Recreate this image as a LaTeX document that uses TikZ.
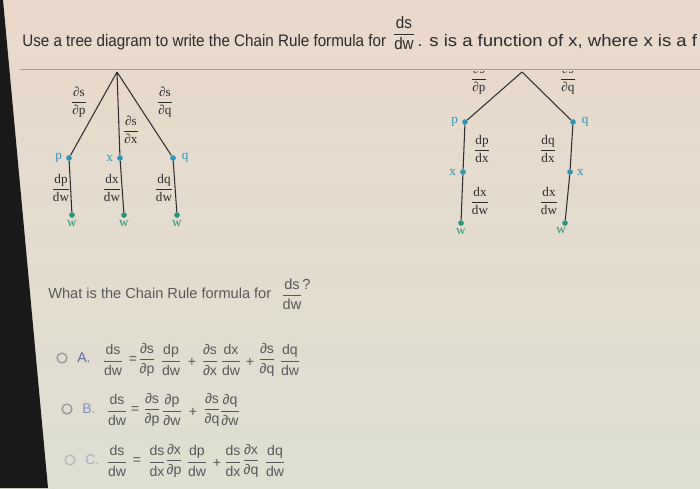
\documentclass[tikz,border=0pt]{standalone}
\usepackage{amsmath}
\usepackage{fontspec}
\setmainfont{Liberation Sans}
\newfontfamily\treefont{Liberation Serif}
\newfontfamily\headfont[FakeStretch=0.91]{Liberation Sans}
\newfontfamily\tailfont[FakeStretch=1.11]{Liberation Sans}
\usetikzlibrary{positioning}
\definecolor{bgtop}{RGB}{233,217,204}
\definecolor{bgbot}{RGB}{221,223,209}
\definecolor{ink}{RGB}{45,42,42}
\definecolor{greyink}{RGB}{88,88,88}
\definecolor{dotblue}{RGB}{40,150,185}
\definecolor{dotgreen}{RGB}{35,150,120}
\definecolor{branchgray}{RGB}{50,45,45}
\definecolor{rulegray}{RGB}{165,155,150}
\definecolor{optblue}{RGB}{90,105,165}
\newcommand{\fr}[2]{$\dfrac{\mbox{#1}}{\mbox{#2}}$}
\tikzset{
  tdot/.style={circle, fill=dotblue, inner sep=0pt, minimum size=3.2pt},
  wdot/.style={tdot, fill=dotgreen},
  branch/.style={draw=branchgray, line width=0.6pt},
  tlbl/.style={font=\treefont\fontsize{7.5}{9}\selectfont, inner sep=1pt, text=ink},
  vlbl/.style={tlbl, text=dotblue},
  wlbl/.style={tlbl, text=dotgreen},
  head/.style={font=\headfont\fontsize{9.5}{11}\selectfont, text=ink, inner sep=0pt},
  ask/.style={font=\fontsize{8.3}{10}\selectfont, text=greyink, inner sep=0pt},
  opt/.style={font=\fontsize{8}{10}\selectfont, text=greyink, inner sep=0pt},
  optlet/.style={opt, text=optblue},
  radio/.style={circle, draw=gray!80, line width=0.8pt, inner sep=0pt, minimum size=5.6pt}
}
\begin{document}
\begin{tikzpicture}[x=0.02cm, y=-0.02cm]
  \useasboundingbox (0,0) rectangle (700,488);
  \clip (0,0) rectangle (700,488);
  \shade[top color=bgtop, bottom color=bgbot] (0,0) rectangle (700,488);
  \fill[black!90] (0,0) -- (3,0) -- (48,488) -- (0,488) -- cycle;

  % question
  \node[head, anchor=base west] (title) at (22,46) {Use a tree diagram to write the Chain Rule formula for};
  \node[head] (tfrac) at (404,33) {\fr{ds}{dw}};
  \node[head, anchor=base west, font=\tailfont\fontsize{9.5}{11}\selectfont] (tail) at (417,46) {. s is a function of x, where x is a f};
  \coordinate (ra) at (20,69);
  \coordinate (rb) at (700,69);
  \draw[rulegray, line width=0.5pt] (ra) -- (rb);

  % left tree
  \coordinate (ls) at (117,72);
  \node[tdot] (lp) at (69,158) {};
  \node[tdot] (lx) at (120,158) {};
  \node[tdot] (lq) at (173,158) {};
  \node[wdot] (lw1) at (72,215) {};
  \node[wdot] (lw2) at (124,215) {};
  \node[wdot] (lw3) at (177,215) {};
  \draw[branch] (ls) -- (lp) (ls) -- (lx) (ls) -- (lq);
  \draw[branch] (lp) -- (lw1) (lx) -- (lw2) (lq) -- (lw3);
  \node[vlbl, left=1pt of lp] (lpl) {p};
  \node[vlbl, left=1pt of lx] (lxl) {x};
  \node[vlbl, right=2pt of lq] (lql) {q};
  \node[wlbl, below=0pt of lw1] (lw1l) {w};
  \node[wlbl, below=0pt of lw2] (lw2l) {w};
  \node[wlbl, below=0pt of lw3] (lw3l) {w};
  \node[tlbl] (lsp) at (79,102) {\fr{∂s}{∂p}};
  \node[tlbl] (lsx) at (131,130) {\fr{∂s}{∂x}};
  \node[tlbl] (lsq) at (165,102) {\fr{∂s}{∂q}};
  \node[tlbl] (lpw) at (61,188) {\fr{dp}{dw}};
  \node[tlbl] (lxw) at (112,188) {\fr{dx}{dw}};
  \node[tlbl] (lqw) at (164,188) {\fr{dq}{dw}};

  % right tree, its top hidden under the rule
  \begin{scope}
    \clip (430,71.5) rectangle (620,260);
    \coordinate (rs) at (522,72);
    \node[tdot] (rp) at (465,122) {};
    \node[tdot] (rq) at (573,122) {};
    \node[tdot] (rx1) at (463,172) {};
    \node[tdot] (rx2) at (570,172) {};
    \node[wdot] (rw1) at (461,223) {};
    \node[wdot] (rw2) at (565,223) {};
    \draw[branch] (rs) -- (rp) (rs) -- (rq);
    \draw[branch] (rp) -- (rx1) -- (rw1) (rq) -- (rx2) -- (rw2);
    \node[vlbl, left=1pt of rp] (rpl) {p};
    \node[vlbl, right=2pt of rq] (rql) {q};
    \node[vlbl, left=1pt of rx1] (rx1l) {x};
    \node[vlbl, right=1pt of rx2] (rx2l) {x};
    \node[wlbl, below=0pt of rw1] (rw1l) {w};
    \node[wlbl, below left=0pt and -3pt of rw2] (rw2l) {w};
    \node[tlbl] (rsp) at (479,79) {\fr{∂s}{∂p}};
    \node[tlbl] (rsq) at (568,79) {\fr{∂s}{∂q}};
    \node[tlbl] (rpx) at (482,149) {\fr{dp}{dx}};
    \node[tlbl] (rqx) at (548,149) {\fr{dq}{dx}};
    \node[tlbl] (rxw1) at (480,201) {\fr{dx}{dw}};
    \node[tlbl] (rxw2) at (549,201) {\fr{dx}{dw}};
  \end{scope}

  % what is asked
  \node[ask, anchor=base west] (ask) at (48,298) {What is the Chain Rule formula for};
  \node[ask] (afrac) at (292,294) {\fr{ds}{dw}};
  \node[ask, anchor=base west] (qm) at (302,289) {?};

  % option A
  \node[radio] (oa) at (62,358) {};
  \node[optlet, anchor=west] (la) at (77,358) {A.};
  \node[opt] (a0) at (113,360) {\fr{ds}{dw}};
  \node[opt] (a1) at (133,360) {=};
  \node[opt] (a2) at (147,360) {\fr{∂s}{∂p}};
  \node[opt] (a3) at (171,360) {\fr{dp}{dw}};
  \node[opt] (a4) at (192,362) {+};
  \node[opt] (a5) at (210,360) {\fr{∂s}{∂x}};
  \node[opt] (a6) at (231,360) {\fr{dx}{dw}};
  \node[opt] (a7) at (250,362) {+};
  \node[opt] (a8) at (267,360) {\fr{∂s}{∂q}};
  \node[opt] (a9) at (290,360) {\fr{dq}{dw}};

  % option B
  \node[radio] (ob) at (67,409) {};
  \node[optlet, anchor=west, text=optblue!75] (lb) at (82,409) {B.};
  \node[opt] (b0) at (117,410) {\fr{ds}{dw}};
  \node[opt] (b1) at (135,410) {=};
  \node[opt] (b2) at (152,410) {\fr{∂s}{∂p}};
  \node[opt] (b3) at (172,410) {\fr{∂p}{∂w}};
  \node[opt] (b4) at (193,412) {+};
  \node[opt] (b5) at (212,410) {\fr{∂s}{∂q}};
  \node[opt] (b6) at (230,410) {\fr{∂q}{∂w}};

  % option C
  \node[radio, draw=gray!55] (oc) at (70,460) {};
  \node[optlet, anchor=west, text=optblue!55] (lc) at (85,460) {C.};
  \node[opt] (c0) at (117,461) {\fr{ds}{dw}};
  \node[opt] (c1) at (137,461) {=};
  \node[opt] (c2) at (157,461) {\fr{ds}{dx}};
  \node[opt] (c3) at (174,461) {\fr{∂x}{∂p}};
  \node[opt] (c4) at (197,461) {\fr{dp}{dw}};
  \node[opt] (c5) at (217,463) {+};
  \node[opt] (c6) at (233,461) {\fr{ds}{dx}};
  \node[opt] (c7) at (251,461) {\fr{∂x}{∂q}};
  \node[opt] (c8) at (275,461) {\fr{dq}{dw}};
\end{tikzpicture}
\end{document}
